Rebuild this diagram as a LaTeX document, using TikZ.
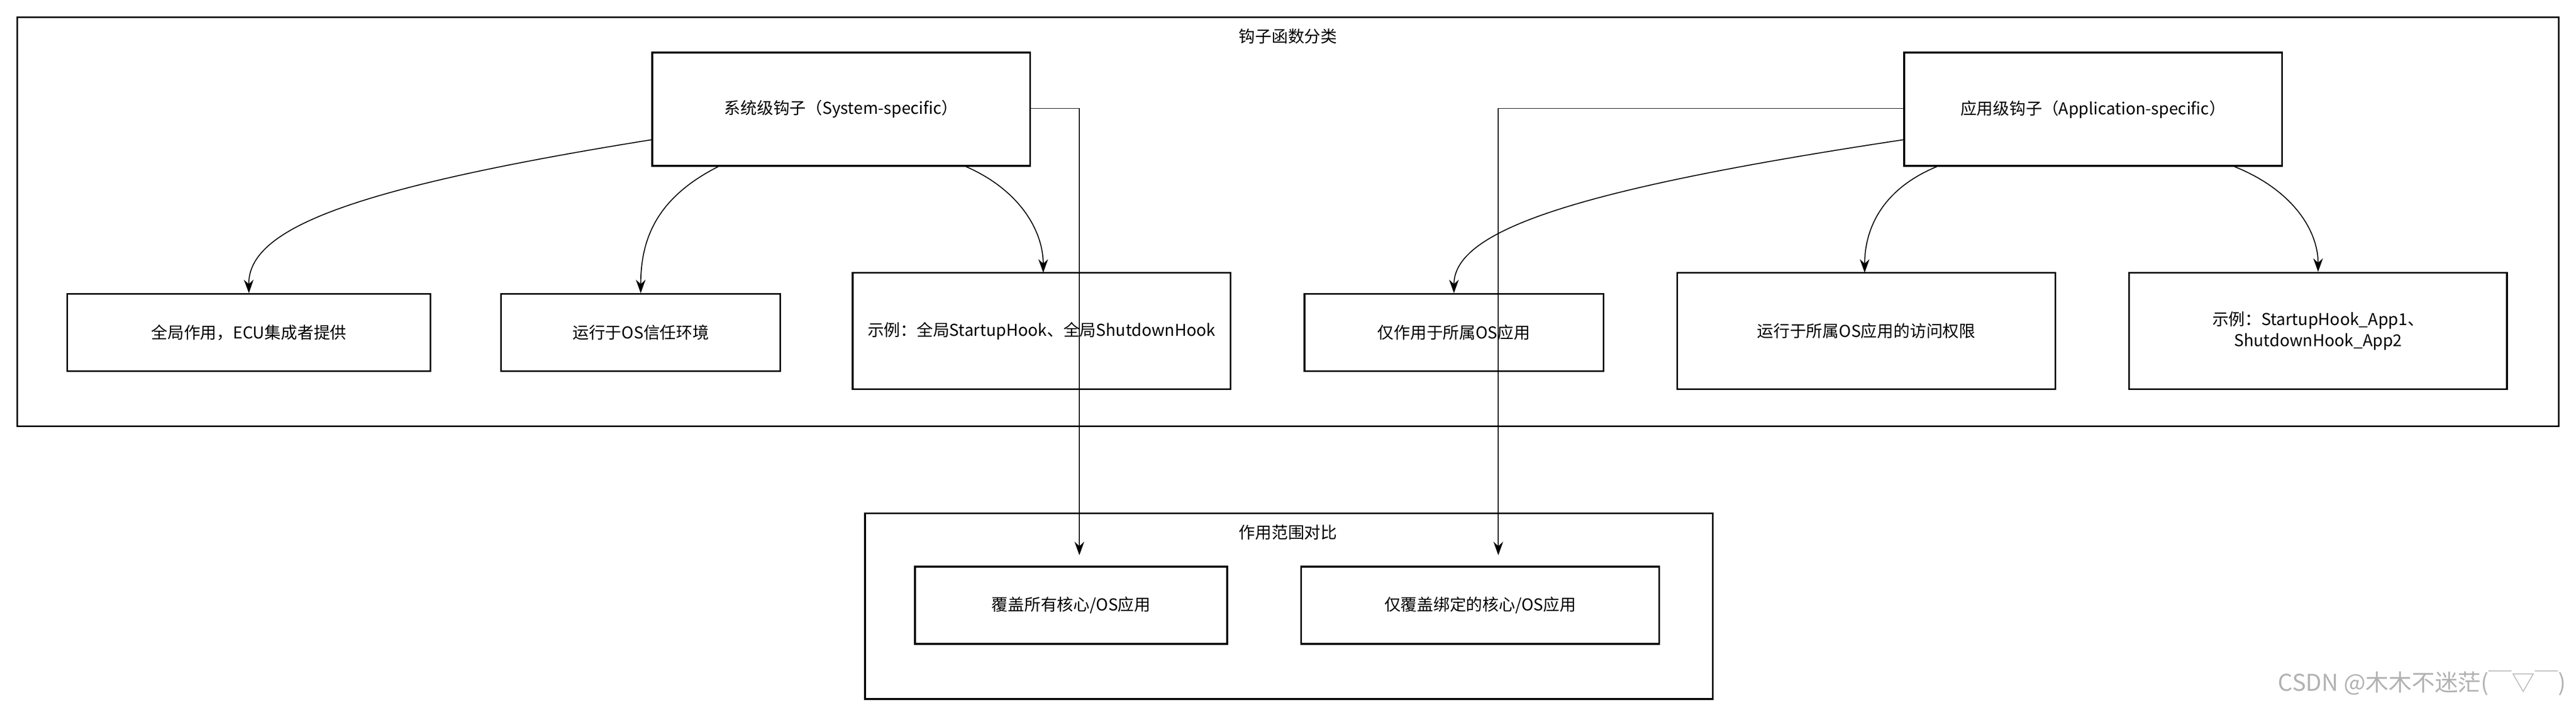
\documentclass[tikz,border=0pt]{standalone}
\usepackage{fontspec}
\setmainfont{Noto Sans CJK SC}
\usetikzlibrary{arrows.meta}
\begin{document}
\begin{tikzpicture}[x=0.03cm,y=-0.03cm,
  every node/.style={font=\fontsize{8.5}{11}\selectfont},
  box/.style={draw,line width=0.9pt,inner sep=0pt},
  arr/.style={-{Stealth[length=7pt,width=5pt]},line width=0.5pt}]
\useasboundingbox (0,0) rectangle (1568,435);
\fill[white] (0,0) rectangle (1568,435);
% frames
\node[box,minimum width=1547*0.03cm,minimum height=249*0.03cm,anchor=north west] (top) at (10,10) {};
\node (toptitle) at (784,22) {钩子函数分类};
\node[box,minimum width=516*0.03cm,minimum height=113*0.03cm,anchor=north west] (bot) at (526,312) {};
\node (bottitle) at (784,324) {作用范围对比};
% nodes
\node[box,minimum width=230*0.03cm,minimum height=69*0.03cm] (sys) at (512,66.5) {系统级钩子（System-specific）};
\node[box,minimum width=230*0.03cm,minimum height=69*0.03cm] (app) at (1274,66.5) {应用级钩子（Application-specific）};
\node[box,minimum width=221*0.03cm,minimum height=47*0.03cm] (a) at (151.5,202.5) {全局作用，ECU集成者提供};
\node[box,minimum width=170*0.03cm,minimum height=47*0.03cm] (b) at (390,202.5) {运行于OS信任环境};
\node[box,minimum width=230*0.03cm,minimum height=71*0.03cm] (c) at (634,201.5) {示例：全局StartupHook、全局ShutdownHook};
\node[box,minimum width=182*0.03cm,minimum height=47*0.03cm] (d) at (885,202.5) {仅作用于所属OS应用};
\node[box,minimum width=230*0.03cm,minimum height=71*0.03cm] (e) at (1136,201.5) {运行于所属OS应用的访问权限};
\node[box,minimum width=230*0.03cm,minimum height=71*0.03cm,align=center] (f) at (1411,201.5) {示例：StartupHook\_App1、\\ShutdownHook\_App2};
\node[box,minimum width=190*0.03cm,minimum height=47*0.03cm] (g) at (652,368.5) {覆盖所有核心/OS应用};
\node[box,minimum width=218*0.03cm,minimum height=47*0.03cm] (h) at (901,368.5) {仅覆盖绑定的核心/OS应用};
% coordinates
\coordinate (s1) at (397,85);
\coordinate (s2) at (438,101);
\coordinate (s3) at (587,101);
\coordinate (p1) at (1159,85);
\coordinate (p2) at (1180,101);
\coordinate (p3) at (1359,101);
\coordinate (sr) at (627,66);
\coordinate (pl) at (1159,66);
\coordinate (ge) at (657,338);
\coordinate (he) at (912,338);
% edges
\draw[arr] (s1) .. controls (210,115) and (151,140) .. (a.north);
\draw[arr] (s2) .. controls (400,120) and (390,145) .. (b.north);
\draw[arr] (s3) .. controls (620,115) and (635,140) .. (635,166);
\draw[arr] (p1) .. controls (960,115) and (885,140) .. (d.north);
\draw[arr] (p2) .. controls (1145,115) and (1135,140) .. (1135,166);
\draw[arr] (p3) .. controls (1395,115) and (1411,140) .. (f.north);
\draw[arr] (sr) -- (657,66) -- (ge);
\draw[arr] (pl) -- (912,66) -- (he);
\node[text=gray!60,anchor=east,font=\fontsize{12}{14}\selectfont] (wm) at (1566,416) {CSDN @木木不迷茫(￣▽￣)};
\end{tikzpicture}
\end{document}
